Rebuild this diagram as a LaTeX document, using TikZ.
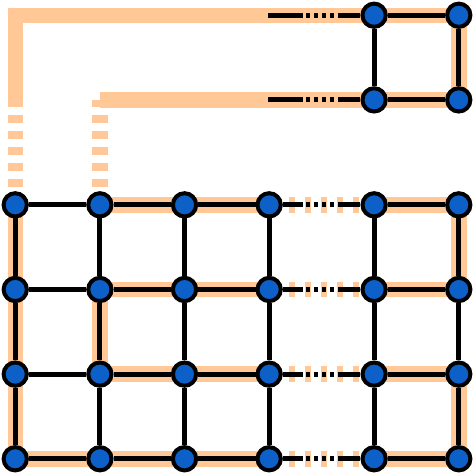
\documentclass[tikz,border=0pt]{standalone}
\usetikzlibrary{backgrounds}

\definecolor{peach}{RGB}{255,200,150}
\definecolor{qblue}{RGB}{12,96,200}

\tikzset{
  site/.style = {circle, draw = black, line width = 1.35pt, fill = qblue, inner sep = 0pt, minimum size = 0.275cm},
  link/.style = {line width = 1.6pt},
  gaplink/.style = {line width = 1.6pt, dash pattern = on 7.4pt off 1.34pt on 1.45pt off 1.24pt on 1.45pt off 1.24pt on 1.45pt off 1.24pt on 1.45pt off 1.08pt on 30pt},
  route/.style = {peach, line width = 5.2pt},
  routecut/.style = {peach, line width = 5.2pt, dash pattern = on 2.52pt off 2.86pt},
  routegap/.style = {peach, line width = 5.2pt, dash pattern = on 2.18pt off 3.19pt, shorten < = 6.6pt, shorten > = 5.1pt}
}

\begin{document}
\begin{tikzpicture}

\useasboundingbox (0,0) rectangle (5.6,-5.6);

% upper pair
\node[site] (p5) at (4.42,-0.18) {};
\node[site] (p6) at (5.42,-0.18) {};
\node[site] (q5) at (4.42,-1.18) {};
\node[site] (q6) at (5.42,-1.18) {};

% lattice
\node[site] (a1) at (0.18,-2.42) {};
\node[site] (a2) at (1.18,-2.42) {};
\node[site] (a3) at (2.18,-2.42) {};
\node[site] (a4) at (3.18,-2.42) {};
\node[site] (a5) at (4.42,-2.42) {};
\node[site] (a6) at (5.42,-2.42) {};

\node[site] (b1) at (0.18,-3.42) {};
\node[site] (b2) at (1.18,-3.42) {};
\node[site] (b3) at (2.18,-3.42) {};
\node[site] (b4) at (3.18,-3.42) {};
\node[site] (b5) at (4.42,-3.42) {};
\node[site] (b6) at (5.42,-3.42) {};

\node[site] (c1) at (0.18,-4.42) {};
\node[site] (c2) at (1.18,-4.42) {};
\node[site] (c3) at (2.18,-4.42) {};
\node[site] (c4) at (3.18,-4.42) {};
\node[site] (c5) at (4.42,-4.42) {};
\node[site] (c6) at (5.42,-4.42) {};

\node[site] (d1) at (0.18,-5.42) {};
\node[site] (d2) at (1.18,-5.42) {};
\node[site] (d3) at (2.18,-5.42) {};
\node[site] (d4) at (3.18,-5.42) {};
\node[site] (d5) at (4.42,-5.42) {};
\node[site] (d6) at (5.42,-5.42) {};

\coordinate (s1) at (3.17,-0.18);
\coordinate (s2) at (3.17,-1.18);

\begin{scope}[on background layer]
% orange path
\draw[route] (0.18,-1.26) |- (p6.center) -- (q6.center) -- (1.18,-1.18);
\draw[route] (1.18,-1.18) -- (1.18,-1.26);
\draw[routecut] (0.18,-1.36) -- (0.18,-2.21);
\draw[routecut] (1.18,-1.36) -- (1.18,-2.21);

\draw[route] (a2.center) -- (a4.center);
\draw[routegap] (a4.center) -- (a5.center);
\draw[route] (a5.center) -- (a6.center) -- (b6.center) -- (b5.center);
\draw[routegap] (b4.center) -- (b5.center);
\draw[route] (b4.center) -- (b2.center) -- (c2.center) -- (c4.center);
\draw[routegap] (c4.center) -- (c5.center);
\draw[route] (c5.center) -- (c6.center) -- (d6.center) -- (d5.center);
\draw[routegap] (d4.center) -- (d5.center);
\draw[route] (d4.center) -- (d1.center) -- (a1.center);

% bonds
\draw[link] (p5) edge (p6);
\draw[link] (q5) edge (q6);
\draw[link] (p5) edge (q5);
\draw[link] (p6) edge (q6);
\draw[gaplink] (p5) -- (s1);
\draw[gaplink] (q5) -- (s2);

\draw[link] (a1) edge (a2);
\draw[link] (a2) edge (a3);
\draw[link] (a3) edge (a4);
\draw[gaplink] (a5) -- (a4);
\draw[link] (a5) edge (a6);

\draw[link] (b1) edge (b2);
\draw[link] (b2) edge (b3);
\draw[link] (b3) edge (b4);
\draw[gaplink] (b5) -- (b4);
\draw[link] (b5) edge (b6);

\draw[link] (c1) edge (c2);
\draw[link] (c2) edge (c3);
\draw[link] (c3) edge (c4);
\draw[gaplink] (c5) -- (c4);
\draw[link] (c5) edge (c6);

\draw[link] (d1) edge (d2);
\draw[link] (d2) edge (d3);
\draw[link] (d3) edge (d4);
\draw[gaplink] (d5) -- (d4);
\draw[link] (d5) edge (d6);

\draw[link] (a1) edge (b1);
\draw[link] (b1) edge (c1);
\draw[link] (c1) edge (d1);
\draw[link] (a2) edge (b2);
\draw[link] (b2) edge (c2);
\draw[link] (c2) edge (d2);
\draw[link] (a3) edge (b3);
\draw[link] (b3) edge (c3);
\draw[link] (c3) edge (d3);
\draw[link] (a4) edge (b4);
\draw[link] (b4) edge (c4);
\draw[link] (c4) edge (d4);
\draw[link] (a5) edge (b5);
\draw[link] (b5) edge (c5);
\draw[link] (c5) edge (d5);
\draw[link] (a6) edge (b6);
\draw[link] (b6) edge (c6);
\draw[link] (c6) edge (d6);
\end{scope}
\end{tikzpicture}
\end{document}
